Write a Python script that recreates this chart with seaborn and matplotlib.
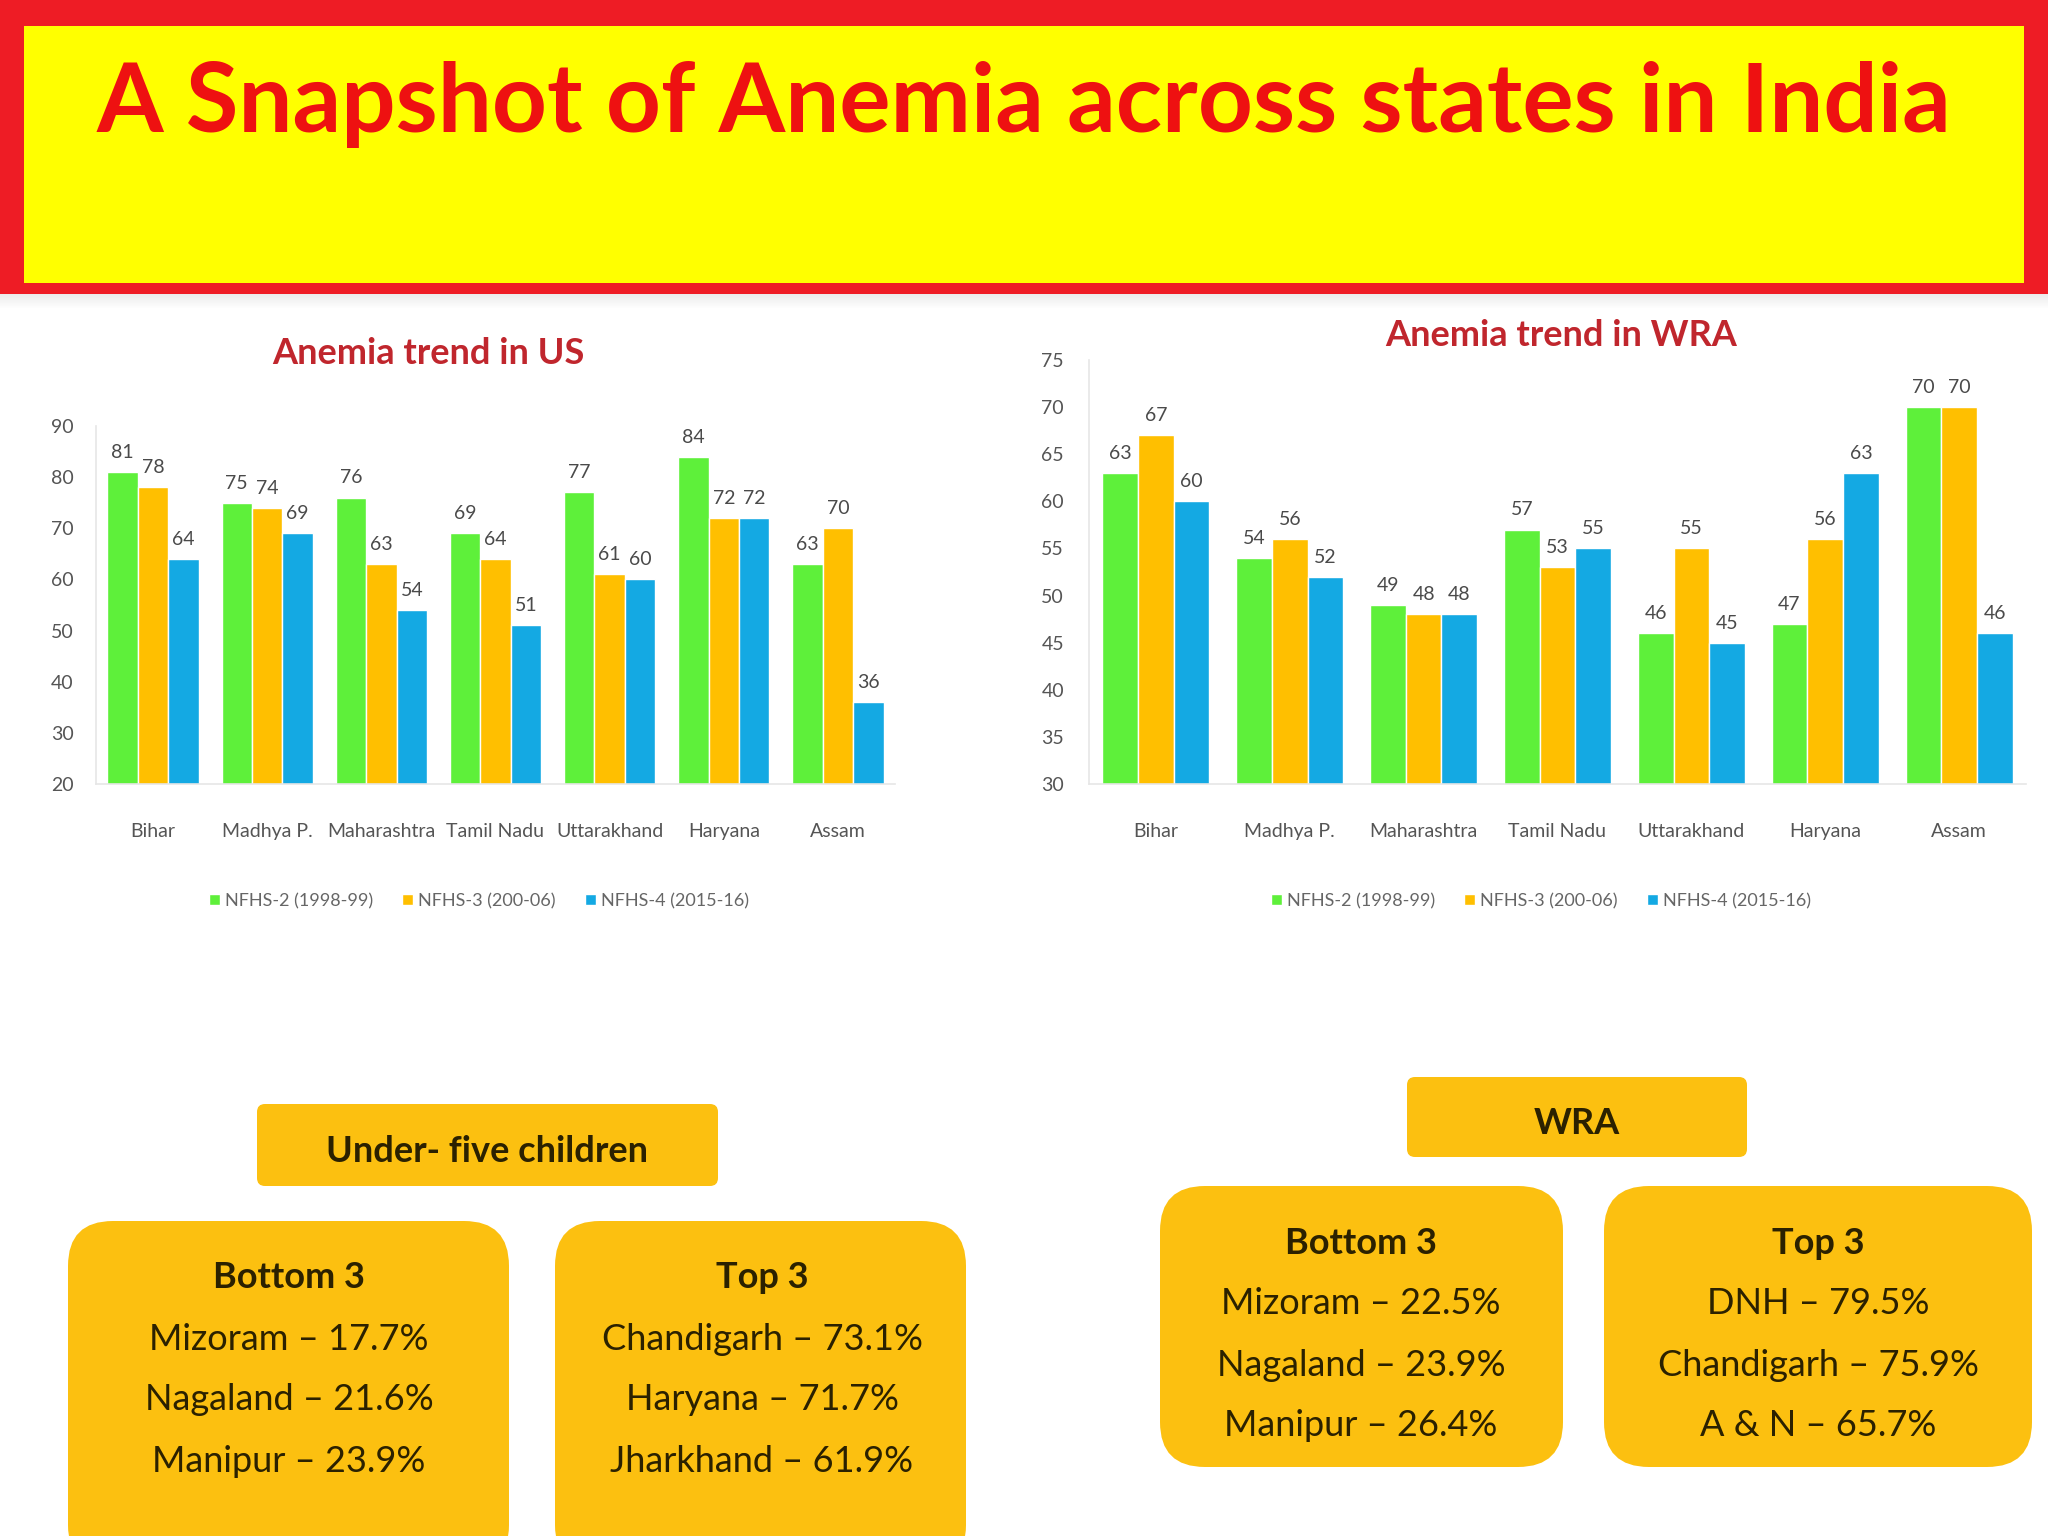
import matplotlib
matplotlib.use('Agg')
import matplotlib.pyplot as plt
import seaborn as sns
import pandas as pd
from matplotlib.patches import Rectangle, FancyBboxPatch

# datos
estados = ['Bihar', 'Madhya P.', 'Maharashtra', 'Tamil Nadu', 'Uttarakhand', 'Haryana', 'Assam']
rondas = ['NFHS-2 (1998-99)', 'NFHS-3 (200-06)', 'NFHS-4 (2015-16)']

us_nfhs2 = [81, 75, 76, 69, 77, 84, 63]
us_nfhs3 = [78, 74, 63, 64, 61, 72, 70]
us_nfhs4 = [64, 69, 54, 51, 60, 72, 36]

wra_nfhs2 = [63, 54, 49, 57, 46, 47, 70]
wra_nfhs3 = [67, 56, 48, 53, 55, 56, 70]
wra_nfhs4 = [60, 52, 48, 55, 45, 63, 46]

us_bottom = ['Mizoram – 17.7%', 'Nagaland – 21.6%', 'Manipur – 23.9%']
us_top = ['Chandigarh – 73.1%', 'Haryana – 71.7%', 'Jharkhand – 61.9%']
wra_bottom = ['Mizoram – 22.5%', 'Nagaland – 23.9%', 'Manipur – 26.4%']
wra_top = ['DNH – 79.5%', 'Chandigarh – 75.9%', 'A & N – 65.7%']

colores = ['#5ef03a', '#ffbf00', '#14a9e3']
oro = '#fcc010'
W, H = 2048, 1536

sns.set_theme(style='white')
plt.rcParams['font.family'] = ['Lato', 'DejaVu Sans']


def tabla(v2, v3, v4):
    filas = []
    for ronda, vals in zip(rondas, [v2, v3, v4]):
        for est, v in zip(estados, vals):
            filas.append({'estado': est, 'ronda': ronda, 'valor': v})
    return pd.DataFrame(filas)


def ejes(fig, x0, x1, y_top, y_base):
    return fig.add_axes([x0 / W, 1 - y_base / H, (x1 - x0) / W, (y_base - y_top) / H], zorder=2)


def dibujar_barras(fig, ax, df, ymin, ymax, paso, ley_x, ley_y, ypad):
    sns.barplot(data=df, x='estado', y='valor', hue='ronda', palette=colores,
                saturation=1, width=0.8, ax=ax, legend=True)
    ax.set_ylim(ymin, ymax)
    ax.set_yticks(range(ymin, ymax + 1, paso))
    ax.set_xlabel('')
    ax.set_ylabel('')
    ax.patch.set_alpha(0)
    for c in ax.containers:
        ax.bar_label(c, fmt='%d', padding=8, fontsize=14, color='#4a4a4a')
    for s in ['top', 'right']:
        ax.spines[s].set_visible(False)
    for s in ['left', 'bottom']:
        ax.spines[s].set_color('#e6e6e6')
        ax.spines[s].set_linewidth(1.2)
    ax.tick_params(axis='y', length=0, labelsize=14, labelcolor='#555555', pad=ypad)
    ax.tick_params(axis='x', length=0, labelsize=14, labelcolor='#555555', pad=28)
    ax.legend(loc='center', bbox_to_anchor=(ley_x / W, 1 - ley_y / H),
              bbox_transform=fig.transFigure, ncol=3, frameon=False,
              fontsize=13, labelcolor='#666666', handlelength=0.6, handleheight=0.6,
              handletextpad=0.3, columnspacing=1.6)


fig = plt.figure(figsize=(20.48, 15.36), dpi=100)
fig.patch.set_facecolor('white')

# capa de fondo en pixeles
bg = fig.add_axes([0, 0, 1, 1], zorder=0)
bg.set_xlim(0, W)
bg.set_ylim(H, 0)
bg.axis('off')

bg.add_patch(Rectangle((0, 0), W, 294, color='#ee1c25', lw=0))
for i in range(14):
    bg.add_patch(Rectangle((0, 294 + i), W, 1, color='#c8c8c8', alpha=0.35 * (1 - i / 14), lw=0))
bg.add_patch(Rectangle((24, 26), 2000, 257, color='#ffff00', lw=0))
bg.text(1024, 104, 'A Snapshot of Anemia across states in India', ha='center', va='center',
        fontsize=69, fontweight='bold', color='#ee1111')

bg.text(428, 353, 'Anemia trend in US', ha='center', va='center', fontsize=26,
        fontweight='bold', color='#c0262d')
bg.text(1561, 336, 'Anemia trend in WRA', ha='center', va='center', fontsize=26,
        fontweight='bold', color='#c0262d')


def caja(x0, y0, x1, y1, r):
    bg.add_patch(FancyBboxPatch((x0, y0), x1 - x0, y1 - y0,
                                boxstyle='round,pad=0,rounding_size=%d' % r,
                                fc=oro, ec='none'))


def bloque(cx, y_head, lineas, paso=61):
    bg.text(cx, y_head, lineas[0], ha='center', va='center', fontsize=26,
            fontweight='bold', color='#2b2100')
    for i, t in enumerate(lineas[1:]):
        bg.text(cx, y_head + paso * (i + 1), t, ha='center', va='center', fontsize=26,
                color='#2b2100')


# cajas inferiores
caja(257, 1104, 718, 1186, 8)
bg.text(487, 1152, 'Under- five children', ha='center', va='center', fontsize=26,
        fontweight='bold', color='#2b2100')
caja(68, 1221, 509, 1570, 45)
caja(555, 1221, 966, 1570, 45)
bloque(289, 1278, ['Bottom 3'] + us_bottom)
bloque(762, 1278, ['Top 3'] + us_top)

caja(1407, 1077, 1747, 1157, 8)
bg.text(1577, 1124, 'WRA', ha='center', va='center', fontsize=26,
        fontweight='bold', color='#2b2100')
caja(1160, 1186, 1563, 1467, 45)
caja(1604, 1186, 2032, 1467, 45)
bloque(1361, 1243, ['Bottom 3'] + wra_bottom)
bloque(1818, 1243, ['Top 3'] + wra_top)

# graficos de barras
ax1 = ejes(fig, 96, 895, 426, 784)
dibujar_barras(fig, ax1, tabla(us_nfhs2, us_nfhs3, us_nfhs4), 20, 90, 10, 479, 901, 16)

ax2 = ejes(fig, 1089, 2026, 360, 784)
dibujar_barras(fig, ax2, tabla(wra_nfhs2, wra_nfhs3, wra_nfhs4), 30, 75, 5, 1541, 901, 18)

fig.savefig('out.png', dpi=100)
